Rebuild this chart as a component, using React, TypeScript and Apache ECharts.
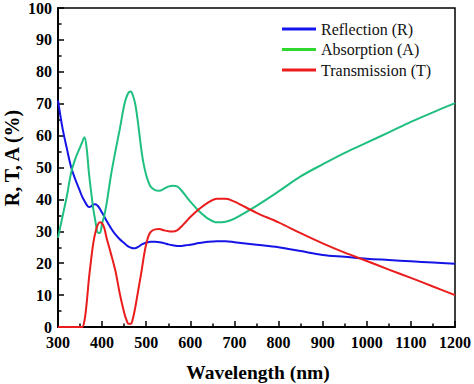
import React, { useEffect, useRef } from "react";
import * as echarts from "echarts";

// Wavelength samples (nm), shared by all three spectra
const wavelengths = [
  300, 310, 320, 330, 340, 350, 355, 360, 365, 370, 375, 380, 385, 390, 395, 400,
  405, 410, 420, 430, 440, 450, 455, 460, 465, 470, 475, 480, 485, 490, 495, 500,
  505, 510, 520, 530, 540, 550, 560, 570, 580, 590, 600, 620, 640, 660, 680, 700,
  750, 800, 850, 900, 950, 1000, 1050, 1100, 1150, 1200,
];

// Reflection (R), %
const reflection = [
  71, 62.5, 56, 50, 46, 42.5, 40.8, 39.5, 38.3, 37.6, 37.8, 38.4, 38.5, 38, 37, 35.8,
  34.6, 33.3, 31, 29, 27.5, 26.3, 25.7, 25.2, 24.9, 24.7, 24.7, 25, 25.4, 25.9, 26.2, 26.5,
  26.6, 26.7, 26.7, 26.6, 26.3, 25.9, 25.6, 25.4, 25.4, 25.6, 25.8, 26.3, 26.7, 26.9, 26.9, 26.6,
  25.8, 25, 23.8, 22.6, 22, 21.4, 21, 20.6, 20.2, 19.8,
];

// Absorption (A), %
const absorption = [
  28, 34.5, 41, 48.5, 53, 56.3, 58, 59.5, 56, 48.5, 42.5, 37, 33, 29.6, 29.5, 32.5,
  35, 38.5, 47.5, 55, 62, 69.5, 72, 73.5, 73.8, 72.5, 70, 65.5, 60, 54.5, 50.5, 47.6,
  45.5, 44, 42.9, 42.7, 43.3, 44, 44.3, 44.1, 42.8, 41, 39.3, 36.3, 34, 32.8, 33, 34,
  38, 42.5, 47.2, 51, 54.6, 57.8, 61, 64.3, 67.3, 70.2,
];

// Transmission (T), %
const transmission = [
  0, 0, 0, 0, 0, 0, 0, 2, 7.5, 15, 21, 26.3, 29.8, 32, 32.8, 32.5,
  31, 28, 23, 17.7, 10.5, 4.5, 2.3, 1, 1, 2.8, 6, 10, 14, 18, 22.5, 26,
  28.5, 29.8, 30.6, 30.7, 30.3, 30, 29.9, 30.3, 31.5, 33, 34.5, 37, 39, 40.2, 40.2, 39.3,
  35.8, 32.8, 29.4, 26.2, 23.3, 20.7, 18, 15.4, 12.7, 10,
];

const seriesNames = ["Reflection (R)", "Absorption (A)", "Transmission (T)"];
const curveColors = ["#1414e6", "#1fbf7f", "#ea1c1c"];
const legendColors = ["#1414f0", "#2ed82e", "#ee1c1c"];

const serif = "Liberation Serif";

const pairs = (ys: number[]) => wavelengths.map((x, i) => [x, ys[i]]);

export default function App() {
  const ref = useRef<HTMLDivElement>(null);

  useEffect(() => {
    if (!ref.current) return;
    const chart = echarts.init(ref.current, undefined, { renderer: "svg" });
    const values = [reflection, absorption, transmission];

    const tickLabel = {
      fontFamily: serif,
      fontWeight: "bold",
      fontSize: 16,
      color: "#000",
      formatter: (v: number) => String(v),
    };

    chart.setOption({
      animation: false,
      backgroundColor: "#ffffff",
      grid: {
        left: 58,
        right: 16,
        top: 6,
        bottom: 57,
        show: true,
        borderColor: "#000",
        borderWidth: 1.5,
      },
      legend: {
        orient: "vertical",
        left: 277,
        top: 16,
        itemWidth: 34,
        itemHeight: 3,
        itemGap: 4.5,
        textStyle: { fontFamily: serif, fontSize: 16, color: "#111" },
        data: seriesNames.map((name, i) => ({
          name,
          icon: "rect",
          itemStyle: { color: legendColors[i] },
        })),
      },
      xAxis: {
        type: "value",
        min: 300,
        max: 1200,
        interval: 100,
        axisLine: { show: true, lineStyle: { color: "#000", width: 2 } },
        axisTick: { show: true, inside: true, length: 6, lineStyle: { color: "#000", width: 1.5 } },
        minorTick: { show: true, splitNumber: 2, length: 3.5, lineStyle: { color: "#000", width: 1.5 } },
        splitLine: { show: false },
        axisLabel: { margin: 7, ...tickLabel },
      },
      yAxis: {
        type: "value",
        min: 0,
        max: 100,
        interval: 10,
        axisLine: { show: true, lineStyle: { color: "#000", width: 2 } },
        axisTick: { show: true, inside: true, length: 6, lineStyle: { color: "#000", width: 1.5 } },
        minorTick: { show: true, splitNumber: 2, length: 3.5, lineStyle: { color: "#000", width: 1.5 } },
        splitLine: { show: false },
        axisLabel: { margin: 6, ...tickLabel },
      },
      series: seriesNames.map((name, i) => ({
        name,
        type: "line",
        data: pairs(values[i]),
        smooth: 0.35,
        showSymbol: false,
        symbol: "none",
        clip: true,
        lineStyle: { color: curveColors[i], width: 2 },
        itemStyle: { color: curveColors[i] },
      })),
      graphic: [
        {
          type: "text",
          x: 258,
          y: 372,
          style: {
            text: "Wavelength (nm)",
            fontFamily: serif,
            fontWeight: "bold",
            fontSize: 19.5,
            fill: "#000",
            align: "center",
            verticalAlign: "middle",
          },
        },
        {
          type: "text",
          x: 12,
          y: 158,
          rotation: Math.PI / 2,
          style: {
            text: "R, T, A (%)",
            fontFamily: serif,
            fontWeight: "bold",
            fontSize: 20,
            fill: "#000",
            align: "center",
            verticalAlign: "middle",
          },
        },
      ],
    });

    return () => chart.dispose();
  }, []);

  return <div ref={ref} style={{ width: 474, height: 384, position: "absolute", left: 0, top: 0 }} />;
}
